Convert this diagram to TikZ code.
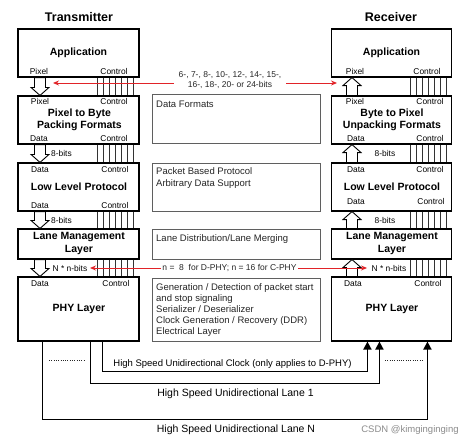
\documentclass[tikz,border=0pt]{standalone}
\usepackage{fontspec}
\setmainfont{Liberation Sans}
\usetikzlibrary{calc,arrows.meta}
\definecolor{arrred}{RGB}{225,35,40}
\definecolor{midgray}{RGB}{95,95,95}
\newcommand\hdown[3]{\path[hollow] let \p1=(#1), \p2=(#2) in
  ({#3pt-5.5pt},\y1) -- ({#3pt+5.5pt},\y1) -- ({#3pt+5.5pt},{\y2+8pt}) -- ({#3pt+9pt},{\y2+8pt})
  -- ({#3pt},\y2) -- ({#3pt-9pt},{\y2+8pt}) -- ({#3pt-5.5pt},{\y2+8pt}) -- cycle;}
\newcommand\hup[3]{\path[hollow] let \p1=(#1), \p2=(#2) in
  ({#3pt-5.5pt},\y1) -- ({#3pt+5.5pt},\y1) -- ({#3pt+5.5pt},{\y2-8pt}) -- ({#3pt+9pt},{\y2-8pt})
  -- ({#3pt},\y2) -- ({#3pt-9pt},{\y2-8pt}) -- ({#3pt-5.5pt},{\y2-8pt}) -- cycle;}
\newcommand\ctrls[3]{\foreach \i in {0,...,6}{\draw[ctrl] let \p1=(#1), \p2=(#2) in
  ({#3pt+6pt*\i},\y1) -- ({#3pt+6pt*\i},\y2);}}
\begin{document}
\begin{tikzpicture}[x=1pt,y=-1pt,
 box/.style={draw=black,line width=1.1pt,inner sep=0pt},
 lbox/.style={box,minimum width=121pt},
 rbox/.style={box,minimum width=120pt},
 mbox/.style={draw=midgray,line width=1pt,minimum width=168pt,inner sep=0pt},
 ttl/.style={font=\fontsize{12.5}{14}\selectfont\bfseries,inner sep=0pt},
 btl/.style={font=\fontsize{10.5}{12.3}\selectfont\bfseries,align=center,inner sep=0pt},
 sm/.style={font=\fontsize{8.4}{10}\selectfont,inner sep=0pt,text height=6pt,text depth=0pt},
 mtx/.style={font=\fontsize{9.5}{11.2}\selectfont,align=left,anchor=west,inner sep=0pt,text=black!85},
 rtx/.style={font=\fontsize{8.5}{10}\selectfont,align=center,text=black!85},
 bt/.style={font=\fontsize{9.5}{11}\selectfont,inner sep=0pt},
 bt2/.style={font=\fontsize{10.5}{12}\selectfont,inner sep=0pt},
 hollow/.style={draw=black,fill=white,line width=0.9pt,line join=miter},
 ctrl/.style={draw=black!80,line width=0.6pt},
 redarr/.style={draw=arrred,line width=0.9pt,-{Stealth[length=6pt,width=5pt]}},
 bus/.style={draw=black,line width=1.8pt,-{Triangle[length=8pt,width=8pt]}},
 dots/.style={draw=black!85,line width=1pt,dash pattern=on 1pt off 1.3pt}
]
\useasboundingbox[fill=white] (0,0) rectangle (474,442);

% titles
\node[ttl] (tx) at (79,17) {Transmitter};
\node[ttl] (rx) at (391,17) {Receiver};

% left column
\node[lbox,minimum height=48pt] (appL) at (78.5,53) {};
\node[lbox,minimum height=48pt] (pbL) at (78.5,120) {};
\node[lbox,minimum height=48pt] (llpL) at (78.5,187) {};
\node[lbox,minimum height=30pt] (lmL) at (78.5,244) {};
\node[lbox,minimum height=64pt] (phyL) at (78.5,309) {};
% right column
\node[rbox,minimum height=48pt] (appR) at (391.5,53) {};
\node[rbox,minimum height=48pt] (pbR) at (391.5,120) {};
\node[rbox,minimum height=48pt] (llpR) at (391.5,187) {};
\node[rbox,minimum height=30pt] (lmR) at (391.5,244) {};
\node[rbox,minimum height=64pt] (phyR) at (391.5,309) {};
% middle column
\node[mbox,minimum height=49pt] (dfM) at (236,118.5) {};
\node[mbox,minimum height=48pt] (pbpM) at (236,187) {};
\node[mbox,minimum height=30pt] (ldM) at (236,244) {};
\node[mbox,minimum height=63pt] (genM) at (236,309.5) {};

% left box texts
\node[btl] (tAppL) at (78.5,52.5) {Application};
\node[sm] (l1) at (39,71) {Pixel};
\node[sm] (l2) at (114,71) {Control};
\node[sm] (l3) at (40,101) {Pixel};
\node[sm] (l4) at (114,101) {Control};
\node[btl] (tPbL) at (79.5,119.5) {Pixel to Byte\\Packing Formats};
\node[sm] (l5) at (39,138) {Data};
\node[sm] (l6) at (114,138) {Control};
\node[sm] (l7) at (40,169) {Data};
\node[sm] (l8) at (115,169) {Control};
\node[btl] (tLlpL) at (79,187) {Low Level Protocol};
\node[sm] (l9) at (40,205) {Data};
\node[sm] (l10) at (115,205) {Control};
\node[btl] (tLmL) at (79,243.5) {Lane Management\\Layer};
\node[sm] (l11) at (40,283) {Data};
\node[sm] (l12) at (116,283) {Control};
\node[btl] (tPhyL) at (79,309) {PHY Layer};

% right box texts
\node[btl] (tAppR) at (391.5,52.5) {Application};
\node[sm] (r1) at (355,71) {Pixel};
\node[sm] (r2) at (427,71) {Control};
\node[sm] (r3) at (355,101) {Pixel};
\node[sm] (r4) at (430,101) {Control};
\node[btl] (tPbR) at (392,119.5) {Byte to Pixel\\Unpacking Formats};
\node[sm] (r5) at (356,138) {Data};
\node[sm] (r6) at (430,138) {Control};
\node[sm] (r7) at (356,169) {Data};
\node[sm] (r8) at (430,169) {Control};
\node[btl] (tLlpR) at (392,187) {Low Level Protocol};
\node[sm] (r9) at (356,201) {Data};
\node[sm] (r10) at (431,201) {Control};
\node[btl] (tLmR) at (392,243.5) {Lane Management\\Layer};
\node[sm] (r11) at (353,283) {Data};
\node[sm] (r12) at (428,283) {Control};
\node[btl] (tPhyR) at (392,309) {PHY Layer};

% middle texts
\node[mtx] (m1) at (156,104) {Data Formats};
\node[mtx] (m2) at (156,178) {Packet Based Protocol\\Arbitrary Data Support};
\node[mtx] (m3) at (156,239) {Lane Distribution/Lane Merging};
\node[mtx] (m4) at (156,310) {Generation / Detection of packet start\\and stop signaling\\Serializer / Deserializer\\Clock Generation / Recovery (DDR)\\Electrical Layer};

% control line bundles
\ctrls{appL.south}{pbL.north}{97}
\ctrls{pbL.south}{llpL.north}{97}
\ctrls{llpL.south}{lmL.north}{97}
\ctrls{lmL.south}{phyL.north}{97}
\ctrls{appR.south}{pbR.north}{410}
\ctrls{pbR.south}{llpR.north}{410}
\ctrls{llpR.south}{lmR.north}{410}
\ctrls{lmR.south}{phyR.north}{410}

% hollow data arrows
\hdown{appL.south}{pbL.north}{40}
\hdown{pbL.south}{llpL.north}{40}
\hdown{llpL.south}{lmL.north}{40}
\hdown{lmL.south}{phyL.north}{40}
\hup{pbR.north}{appR.south}{352}
\hup{llpR.north}{pbR.south}{352}
\hup{lmR.north}{llpR.south}{352}
\hup{phyR.north}{lmR.south}{352}

% bit labels
\node[sm,anchor=west] (b1) at (51,153) {8-bits};
\node[sm,anchor=west] (b2) at (51,220) {8-bits};
\node[sm] (b3) at (385,153) {8-bits};
\node[sm] (b4) at (385,220) {8-bits};
\node[sm] (b5) at (70,268) {N * n-bits};
\node[sm] (b6) at (389,268) {N * n-bits};

% red annotation arrows
\node[rtx,inner xsep=5pt,inner ysep=0pt] (fmt) at (230,80) {6-, 7-, 8-, 10-, 12-, 14-, 15-,\\16-, 18-, 20- or 24-bits};
\coordinate (fmtL) at (53,83);
\coordinate (fmtR) at (337,83);
\draw[redarr] (fmt.west |- fmtL) -- (fmtL);
\draw[redarr] (fmt.east |- fmtR) -- (fmtR);
\node[rtx,inner xsep=1.5pt,inner ysep=0pt] (nn) at (229.5,268) {n =\ \ 8\ \ for D-PHY; n = 16 for C-PHY};
\coordinate (nL) at (90,268);
\coordinate (nR) at (367,268);
\draw[redarr] (nn.west) -- (nL);
\draw[redarr] (nn.east) -- (nR);

% high speed lanes
\draw[bus] ([xshift=85pt]phyL.south west) -- ++(0,30) -| ([xshift=36.5pt]phyR.south west);
\draw[bus] ([xshift=73pt]phyL.south west) -- ++(0,42) -| ([xshift=48.5pt]phyR.south west);
\draw[bus] ([xshift=25pt]phyL.south west) -- ++(0,78) -| ([xshift=96.5pt]phyR.south west);
\coordinate (d1a) at (49,360); \coordinate (d1b) at (85,360);
\coordinate (d2a) at (385,360); \coordinate (d2b) at (422,360);
\draw[dots] (d1a) -- (d1b);
\draw[dots] (d2a) -- (d2b);
\node[bt] (clk) at (232.5,364.5) {High Speed Unidirectional Clock (only applies to D-PHY)};
\node[bt2] (ln1) at (235.5,394) {High Speed Unidirectional Lane 1};
\node[bt2] (lnN) at (236,430) {High Speed Unidirectional Lane N};

% watermark
\node[font=\fontsize{9.5}{11}\selectfont,text=black!45,inner sep=0pt] (wm) at (410,430) {CSDN @kimginginging};
\end{tikzpicture}
\end{document}
